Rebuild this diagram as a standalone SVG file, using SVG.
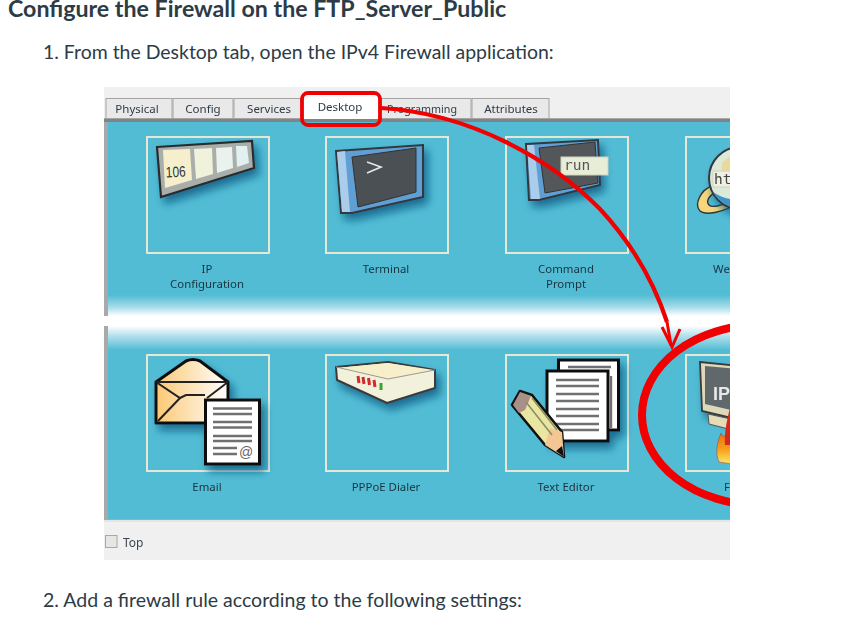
<svg xmlns="http://www.w3.org/2000/svg" width="861" height="623" viewBox="0 0 861 623">
<style>
.h{font-family:Lato,"Noto Sans",sans-serif;fill:#2d3b45}
.ui{font-family:"Noto Sans","Liberation Sans",sans-serif;font-size:11.4px;fill:#173440;text-anchor:middle;filter:url(#soft)}
.tab{fill:#2f3a44}
.tile{fill:none;stroke:#e6e8d6;stroke-width:2}
.tb{fill:#e9e9e9;stroke:#a4a4a4;stroke-width:1}
.gl{stroke:#707070;stroke-width:2.4}
.red{fill:none;stroke:#f00000}
</style>
<defs>
<filter id="soft" x="-10%" y="-10%" width="120%" height="120%"><feGaussianBlur stdDeviation="0.3"/></filter>
<filter id="iconsh" x="-30%" y="-30%" width="170%" height="170%"><feGaussianBlur in="SourceAlpha" stdDeviation="4" result="b"/><feOffset in="b" dx="4" dy="6" result="o"/><feFlood flood-color="#0f5f86" flood-opacity=".85"/><feComposite in2="o" operator="in" result="s"/><feMerge><feMergeNode in="s"/><feMergeNode in="SourceGraphic"/></feMerge></filter>
<linearGradient id="fadeOut" x1="0" y1="0" x2="0" y2="1"><stop offset="0" stop-color="#53bcd5"/><stop offset=".6" stop-color="#a9dde9"/><stop offset="1" stop-color="#fff"/></linearGradient>
<linearGradient id="fadeIn" x1="0" y1="0" x2="0" y2="1"><stop offset="0" stop-color="#fff"/><stop offset=".4" stop-color="#b4e1ec"/><stop offset="1" stop-color="#53bcd5"/></linearGradient>
<linearGradient id="env" x1="0" y1="0" x2="1" y2="0"><stop offset="0" stop-color="#fbc873"/><stop offset="1" stop-color="#fff"/></linearGradient>
<linearGradient id="flame" x1="0" y1="0" x2="0" y2="1"><stop offset="0" stop-color="#ee6a12"/><stop offset=".55" stop-color="#f7a11c"/><stop offset="1" stop-color="#fbe96b"/></linearGradient>
<clipPath id="shot"><rect x="104" y="87" width="626" height="473"/></clipPath>
</defs>
<rect width="861" height="623" fill="#fff"/>
<text class="h" x="8" y="16.500" font-size="23.200" font-weight="700">Configure the Firewall on the FTP_Server_Public</text>
<text class="h" x="43" y="59" font-size="19.450">1. From the Desktop tab, open the IPv4 Firewall application:</text>
<text class="h" x="43" y="607" font-size="19.550">2. Add a firewall rule according to the following settings:</text>

<g clip-path="url(#shot)">
<g id="window">
<rect x="104" y="87" width="626" height="473" fill="#f0f0f0"/>
<rect x="104" y="118" width="626" height="404" fill="#a9a9a9"/>
<rect x="104" y="119" width="626" height="3" fill="#7d8588"/>
<rect x="108" y="122" width="622" height="174" fill="#53bcd5"/>
<rect x="108" y="295" width="622" height="21" fill="url(#fadeOut)"/>
<rect x="104" y="316" width="626" height="10" fill="#fff"/>
<rect x="108" y="326" width="622" height="24" fill="url(#fadeIn)"/>
<rect x="108" y="350" width="622" height="169" fill="#53bcd5"/>
<rect x="104" y="520" width="626" height="2" fill="#e4e4e4"/>
<rect x="104" y="522" width="626" height="38" fill="#f0f0f0"/>
</g>
<g id="tabs" font-family="'Noto Sans','Liberation Sans',sans-serif" font-size="11.500" text-anchor="middle" filter="url(#soft)">
<rect class="tb" x="106" y="98.500" width="66" height="20"/><text class="tab" x="137" y="113">Physical</text>
<rect class="tb" x="173" y="98.500" width="60" height="20"/><text class="tab" x="203" y="113">Config</text>
<rect class="tb" x="234" y="98.500" width="68" height="20"/><text class="tab" x="269" y="113">Services</text>
<rect class="tb" x="380" y="98.500" width="91" height="20"/><text class="tab" x="422" y="113" textLength="70" lengthAdjust="spacingAndGlyphs">Programming</text>
<rect class="tb" x="472" y="98.500" width="77" height="20"/><text class="tab" x="511" y="113">Attributes</text>
<rect x="304" y="95" width="74" height="24" fill="#fff"/><text class="tab" x="340" y="111">Desktop</text>
</g>

<g id="ip-config">
<rect class="tile" x="147" y="137" width="122" height="116"/>
<g filter="url(#iconsh)"><polygon points="157,147 252,141 254,168 161,197" fill="#a9aeaa" stroke="#2b2b2b" stroke-width="2.200"/></g>
<polygon points="163,150 190,149 192,180 165,188" fill="#f6efce"/>
<polygon points="194,149 212,148 213,174 196,179" fill="#f1f2dc"/>
<polygon points="216,148 232,147 233,168 217,173" fill="#e9f2ec"/>
<polygon points="236,146 247,146 249,163 237,167" fill="#e2f0f0"/>
<text x="176" y="177" font-family="'Liberation Sans',sans-serif" font-size="15" fill="#333" text-anchor="middle" transform="rotate(-3 176 177)" textLength="20" lengthAdjust="spacingAndGlyphs">106</text>
<text class="ui" x="207" y="273">IP</text><text class="ui" x="207" y="288">Configuration</text>
</g>

<g id="terminal">
<rect class="tile" x="326" y="137" width="122" height="116"/>
<g filter="url(#iconsh)"><polygon points="336,151 423,145 423,197 352,213 341,213" fill="#5f9fd3" stroke="#33383c" stroke-width="2"/></g>
<polygon points="337,152 345,151 350,212 342,212" fill="#a9cdea"/>
<polygon points="352,157 416,148 416,192 358,207" fill="#4a5054" stroke="#333"/>
<polyline points="367,162 381,167 367,173" fill="none" stroke="#e8e8e8" stroke-width="1.600"/>
<text class="ui" x="386" y="273">Terminal</text>
</g>

<g id="command-prompt">
<rect class="tile" x="506" y="137" width="122" height="116"/>
<g filter="url(#iconsh)"><polygon points="526,144 598,140 600,185 539,200 529,200" fill="#5f9fd3" stroke="#33383c" stroke-width="2"/></g>
<polygon points="527,145 534,145 540,199 531,199" fill="#a9cdea"/>
<polygon points="539,148 595,142 598,183 545,193" fill="#53575a" stroke="#333"/>
<rect x="561" y="157" width="47" height="18" fill="#e8edd8" stroke="#cfd3bd"/>
<text x="564" y="170" font-family="'DejaVu Sans Mono',monospace" font-size="14.500" fill="#555" filter="url(#soft)">run</text>
<text class="ui" x="566" y="273">Command</text><text class="ui" x="566" y="288">Prompt</text>
</g>

<g id="web-browser">
<rect class="tile" x="686" y="137" width="122" height="116"/>
<path d="M712,186 C700,190 694,205 700,211 C706,216 722,212 735,205 L735,199 C722,206 712,208 709,205 C706,202 708,196 716,192Z" fill="#f4d77b" stroke="#333" stroke-width="1.400"/>
<g filter="url(#iconsh)"><circle cx="740" cy="178" r="31" fill="#dce9d8" stroke="#33383c" stroke-width="2"/></g>
<path d="M713,192 Q725,200 740,200 L740,209 Q722,207 713,192Z" fill="#3d94c9"/>
<path d="M722,163 L730,156 L732,171 L722,171Z" fill="#e9d99a"/>
<rect x="713" y="171" width="30" height="16" fill="#eef0e2" stroke="#cfd3bd"/>
<text x="714" y="184" font-family="'DejaVu Sans Mono',monospace" font-size="14.500" fill="#444" filter="url(#soft)">ht</text>
<text class="ui" x="725" y="273">Web</text>
</g>

<g id="email">
<rect class="tile" x="147" y="355" width="122" height="116"/>
<g filter="url(#iconsh)">
<path d="M156,382 L186,361 Q193,358 200,361 L228,382 L228,423 L156,423Z" fill="url(#env)" stroke="#111" stroke-width="3" stroke-linejoin="round"/>
<rect x="205.500" y="400" width="54" height="64" fill="#fff" stroke="#111" stroke-width="3"/>
</g>
<polyline points="156,382 228,382" fill="none" stroke="#222" stroke-width="2"/>
<polyline points="156,382 180,398 186,395 205,395" fill="none" stroke="#222" stroke-width="2"/>
<line x1="158" y1="421" x2="180" y2="398" stroke="#222" stroke-width="2"/>
<line x1="228" y1="382" x2="207" y2="398" stroke="#222" stroke-width="2"/>
<path class="gl" d="M213,408.500H252M213,414H252M213,422H252M213,427.500H252M213,436H252M213,441H252M213,448H237M213,454H237" fill="none"/>
<text x="246" y="457" font-family="'Liberation Sans',sans-serif" font-size="14" fill="#666" text-anchor="middle">@</text>
<text class="ui" x="207" y="491">Email</text>
</g>

<g id="pppoe">
<rect class="tile" x="326" y="355" width="122" height="116"/>
<g filter="url(#iconsh)"><polygon points="336,367 388,362 435,370 435,388 387,403 337,380" fill="#f2f1dc" stroke="#3a3a3a" stroke-width="2" stroke-linejoin="round"/></g>
<polygon points="337,368 388,363 434,370 388,379" fill="#f6efc9"/>
<polyline points="336,367 388,379 435,370" fill="none" stroke="#999"/>
<path d="M358,376l1,7M363,377l1,7M368.500,378l1,7M374,380l1,7" stroke="#d22a2a" stroke-width="3" fill="none"/>
<path d="M381,383l0,7" stroke="#39a539" stroke-width="3"/>
<text class="ui" x="386" y="491">PPPoE Dialer</text>
</g>

<g id="text-editor">
<rect class="tile" x="506" y="355" width="122" height="116"/>
<g filter="url(#iconsh)">
<rect x="558.500" y="360" width="60" height="70" fill="#fff" stroke="#111" stroke-width="3"/>
<rect x="547" y="371" width="61" height="70" fill="#fff" stroke="#111" stroke-width="3"/>
</g>
<path class="gl" d="M568,367H611M611,376V428M556,380H599M556,386H599M556,394H599M556,401H599M556,409H599M556,416H599M556,424H599M556,430H599" fill="none"/>
<polygon points="512,405 520,391 532,395 562,432 564,457 545,445" fill="#e8e6a0" stroke="#111" stroke-width="2.600" stroke-linejoin="round"/>
<polygon points="513,405 520,392 531,396 525,410 519,413" fill="#a89088"/>
<polygon points="545,445 550,428 562,432 564,457" fill="#f3c693"/>
<polygon points="556,451 564,457 562,446" fill="#111"/>
<path d="M526,402L552,435M532,398L557,430" stroke="#8f8f64" stroke-width="1.600" fill="none"/>
<text class="ui" x="566" y="491">Text Editor</text>
</g>

<g id="firewall">
<rect class="tile" x="686" y="355" width="122" height="116"/>
<g filter="url(#iconsh)"><polygon points="700,362 740,366 740,420 702,411" fill="#ddd8b8" stroke="#3a3a3a" stroke-width="1.800"/></g>
<polygon points="705,366 740,369 740,412 705,404" fill="#60686c"/>
<polygon points="708,414 740,421 740,432 709,424" fill="#e3dcb6" stroke="#555"/>
<text x="713" y="400" font-family="'Liberation Sans',sans-serif" font-size="18" font-weight="700" fill="#e8e8e8" filter="url(#soft)">IP</text>
<path d="M719,462 C715,453 717,443 721,433 C723,439 725,436 727,432 L732,432 L732,464Z" fill="url(#flame)" stroke="#a33" stroke-width=".5"/>
<path d="M725,445 C724,432 727,420 730,408 L733,408 L733,445Z" fill="#d7281a"/>
<text class="ui" x="727" y="491">F</text>
</g>

<g id="top-check">
<rect x="105.500" y="535.500" width="11.500" height="12" fill="#e6e6e6" stroke="#a8a8a8"/>
<text x="123" y="546.500" font-family="'Noto Sans','Liberation Sans',sans-serif" font-size="12" fill="#3c4650" filter="url(#soft)">Top</text>
</g>

<g id="connectors">
<rect class="red" x="302" y="93" width="78" height="32" rx="6" stroke-width="3.800"/>
<path class="red" stroke-width="4.200" d="M381,108 C470,113 552,160 600,209 C636,248 655,285 667,322"/>
<path class="red" stroke-width="3" d="M667,322 L671,345"/>
<polyline class="red" stroke-width="3" points="662,327 672,347 680,329"/>
<ellipse class="red" cx="760" cy="415" rx="118" ry="90" stroke-width="8"/>
</g>
</g>
</svg>
